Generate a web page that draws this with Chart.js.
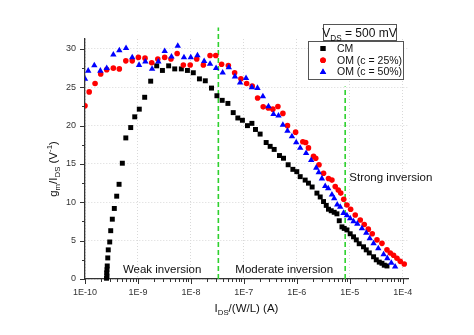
<!DOCTYPE html>
<html>
<head>
<meta charset="utf-8">
<script src="https://cdn.jsdelivr.net/npm/chart.js@4.4.1/dist/chart.umd.min.js"></script>
<style>
  html, body { margin: 0; background: #fff; }
  #wrap { width: 474px; height: 335px; }
</style>
</head>
<body>
<div id="wrap"><canvas id="chart"></canvas></div>
<script>
const FONT = '"Liberation Sans", Arial, sans-serif';

// --- Axis ticks ---
const xTicks = [1e-10, 1e-9, 1e-8, 1e-7, 1e-6, 1e-5, 1e-4];
const yTicks = [0, 5, 10, 15, 20, 25, 30];
const xMin = 1e-10, xMax = 1.26e-4;
const yMin = 0, yMax = 31.3;

// --- CM (squares) ---
const cmX = [2.55e-10, 2.6e-10, 2.57e-10, 2.6e-10, 2.63e-10, 2.69e-10, 2.75e-10, 2.93e-10, 3.06e-10, 3.28e-10,
  3.58e-10, 3.97e-10, 4.4e-10, 5.07e-10, 5.9e-10, 7.3e-10, 8.7e-10, 1.06e-9, 1.34e-9, 1.74e-9,
  2.26e-9, 2.9e-9, 3.8e-9, 4.95e-9, 6.6e-9, 8.6e-9, 1.11e-8, 1.45e-8, 1.87e-8, 2.45e-8,
  3.1e-8, 3.9e-8, 5.0e-8, 6.3e-8, 7.7e-8, 9.4e-8, 1.17e-7, 1.42e-7, 1.66e-7, 2.03e-7,
  2.64e-7, 3.14e-7, 3.74e-7, 4.71e-7, 5.61e-7, 6.87e-7, 8.43e-7, 1.0e-6, 1.16e-6, 1.44e-6,
  1.66e-6, 1.95e-6, 2.4e-6, 2.77e-6, 3.2e-6, 3.6e-6, 3.97e-6, 4.47e-6, 5.09e-6, 5.73e-6,
  6.34e-6, 7.13e-6, 7.87e-6, 8.85e-6, 1.02e-5, 1.18e-5, 1.33e-5, 1.51e-5, 1.82e-5, 2.05e-5,
  2.34e-5, 2.82e-5, 3.17e-5, 3.61e-5, 4.06e-5, 4.49e-5, 5.05e-5];
const cmY = [0.1, 0.4, 0.8, 1.2, 1.7, 2.75, 3.8, 4.83, 6.3, 7.8,
  9.2, 10.8, 12.35, 15.1, 18.4, 19.75, 21.15, 22.15, 23.7, 25.8,
  27.8, 27.2, 27.8, 27.4, 27.4, 27.2, 26.9, 26.1, 25.85, 24.9,
  23.9, 23.3, 22.9, 21.7, 21.0, 20.7, 20.0, 20.3, 19.5, 18.9,
  17.8, 17.3, 16.9, 16.1, 15.75, 14.9, 14.3, 14.0, 13.35, 12.9,
  12.5, 12.0, 11.2, 10.7, 10.1, 9.6, 9.1, 8.9, 8.7, 8.5,
  7.6, 6.8, 6.6, 6.4, 5.9, 5.5, 5.1, 4.6, 4.2, 3.8,
  3.4, 2.9, 2.5, 2.2, 2.05, 1.8, 1.7];

// --- OM (c = 25%) (circles) ---
const om25X = [1e-10, 1.2e-10, 1.55e-10, 1.98e-10, 2.57e-10, 3.43e-10, 4.45e-10, 5.9e-10, 7.8e-10, 1.02e-9,
  1.36e-9, 1.82e-9, 2.37e-9, 3.2e-9, 4.2e-9, 5.5e-9, 7.2e-9, 9.7e-9, 1.29e-8, 1.72e-8,
  2.3e-8, 2.95e-8, 3.8e-8, 5.1e-8, 6.7e-8, 8.8e-8, 1.13e-7, 1.44e-7, 1.82e-7, 2.32e-7,
  2.9e-7, 3.53e-7, 4.4e-7, 5.46e-7, 6.67e-7, 9.5e-7, 1.3e-6, 1.47e-6, 1.66e-6, 2.07e-6,
  2.28e-6, 2.63e-6, 3.2e-6, 3.97e-6, 4.61e-6, 5.32e-6, 6.07e-6, 6.76e-6, 7.7e-6, 8.85e-6,
  1.04e-5, 1.27e-5, 1.58e-5, 1.88e-5, 2.24e-5, 2.66e-5, 3.27e-5, 4.06e-5, 5.05e-5, 5.83e-5,
  6.73e-5, 7.8e-5, 9.0e-5, 1.07e-4];
const om25Y = [22.6, 24.4, 25.5, 26.75, 27.3, 27.5, 27.4, 28.45, 28.45, 28.9,
  28.8, 28.2, 28.7, 28.9, 28.7, 29.4, 27.9, 27.9, 28.7, 27.9,
  29.15, 29.15, 28.0, 27.85, 26.9, 26.1, 25.5, 25.15, 23.6, 22.45,
  22.3, 22.15, 22.5, 21.6, 20.0, 19.15, 17.9, 17.8, 17.1, 16.0,
  15.75, 14.9, 13.8, 13.1, 12.9, 12.05, 11.6, 11.2, 10.4, 9.66,
  9.1, 8.35, 7.7, 7.1, 6.5, 5.9, 5.1, 4.65, 3.8, 3.4,
  3.1, 2.7, 2.3, 1.95];

// --- OM (c = 50%) (triangles) ---
const om50X = [1e-10, 1.15e-10, 1.5e-10, 1.95e-10, 2.57e-10, 3.43e-10, 4.45e-10, 5.96e-10, 7.8e-10, 1.05e-9,
  1.38e-9, 1.85e-9, 2.43e-9, 3.2e-9, 4.3e-9, 5.65e-9, 7.4e-9, 9.95e-9, 1.33e-8, 1.78e-8,
  2.3e-8, 2.99e-8, 3.98e-8, 5.2e-8, 6.8e-8, 8.5e-8, 1.1e-7, 1.42e-7, 1.81e-7, 2.29e-7,
  2.92e-7, 3.63e-7, 4.51e-7, 5.46e-7, 6.67e-7, 8.1e-7, 9.75e-7, 1.16e-6, 1.5e-6, 1.87e-6,
  2.33e-6, 2.6e-6, 2.98e-6, 3.44e-6, 3.92e-6, 4.61e-6, 5.09e-6, 5.8e-6, 6.61e-6, 7.63e-6,
  8.85e-6, 1.02e-5, 1.18e-5, 1.39e-5, 1.7e-5, 2.05e-5, 2.39e-5, 2.82e-5, 3.46e-5, 4.36e-5,
  5.12e-5, 6.1e-5, 7.2e-5];
const om50Y = [26.1, 27.15, 27.85, 27.15, 27.5, 29.25, 29.8, 30.1, 28.9, 27.9,
  28.35, 27.4, 28.35, 29.7, 29.0, 30.4, 28.9, 28.9, 29.15, 28.4,
  28.05, 27.5, 26.9, 27.6, 26.4, 25.6, 26.2, 25.0, 24.9, 23.8,
  22.5, 21.5, 21.3, 20.1, 19.3, 18.6, 17.8, 17.1, 16.4, 15.5,
  14.5, 13.9, 13.1, 12.1, 11.8, 11.0, 10.5, 9.7, 9.4, 8.6,
  8.3, 7.9, 7.5, 7.2, 6.6, 6.0, 5.3, 4.65, 4.0, 3.2,
  2.7, 2.1, 1.6];

// --- Region boundaries (green dashed) ---
const boundX = [3.3e-8, 8.2e-6];
const boundTop = [32.8, 25.1];

// --- Region labels ---
const regionText = ['Weak inversion', 'Moderate inversion', 'Strong inversion'];
const regionX = [5.2e-10, 6.9e-8, 9.8e-6];
const regionY = [1.2, 1.2, 13.2];

const toPoints = (xs, ys) => xs.map((x, i) => ({ x: x, y: ys[i] }));

const series = [
  { label: 'CM', color: '#000000', style: 'rect', radius: 3.5, x: cmX, y: cmY, order: 3 },
  { label: 'OM (c = 25%)', color: '#ff0000', style: 'circle', radius: 2.8, x: om25X, y: om25Y, order: 2 },
  { label: 'OM (c = 50%)', color: '#0000ff', style: 'triangle', radius: 3.7, x: om50X, y: om50Y, order: 1 }
];

const datasets = series.map(s => ({
  label: s.label,
  data: toPoints(s.x, s.y),
  pointStyle: s.style,
  pointRadius: s.radius,
  backgroundColor: s.color,
  borderColor: s.color,
  borderWidth: 0,
  showLine: false,
  order: s.order,
  clip: { left: 0, right: false, top: false, bottom: false }
}));

boundX.forEach((bx, i) => {
  datasets.push({
    label: 'bound' + i,
    data: [{ x: bx, y: 0 }, { x: bx, y: boundTop[i] }],
    showLine: true,
    borderColor: '#2ed12e',
    borderWidth: 1.6,
    borderDash: [5, 3],
    pointRadius: 0,
    order: 10,
    clip: false
  });
});

// draw text with sub/superscripts: parts = [[text, mode]], mode 0 normal, 1 sub, 2 sup
function richWidth(ctx, parts, size) {
  let w = 0;
  parts.forEach(([t, m]) => {
    ctx.font = (m ? size * 0.68 : size) + 'px ' + FONT;
    w += ctx.measureText(t).width;
  });
  return w;
}
function drawRich(ctx, parts, x, y, size) {
  const w = richWidth(ctx, parts, size);
  let cx = x - w / 2;
  ctx.textBaseline = 'alphabetic';
  ctx.textAlign = 'left';
  parts.forEach(([t, m]) => {
    ctx.font = (m ? size * 0.68 : size) + 'px ' + FONT;
    const dy = m === 1 ? size * 0.3 : (m === 2 ? -size * 0.42 : 0);
    ctx.fillText(t, cx, y + dy);
    cx += ctx.measureText(t).width;
  });
}

const overlay = {
  id: 'overlay',
  afterDraw(chart) {
    const ctx = chart.ctx;
    const xs = chart.scales.x, ys = chart.scales.y;
    const area = chart.chartArea;
    ctx.save();

    // tick marks (major + minor), outward
    ctx.strokeStyle = '#333';
    ctx.lineWidth = 1;
    ctx.beginPath();
    xTicks.forEach(d => {
      for (let k = 1; k <= 9; k++) {
        const v = d * k;
        if (v > xMax * 1.0001) break;
        const px = Math.round(xs.getPixelForValue(v)) + 0.5;
        ctx.moveTo(px, area.bottom);
        ctx.lineTo(px, area.bottom + (k === 1 ? 5 : 3));
      }
    });
    for (let v = yMin; v <= yMax; v += 2.5) {
      const py = Math.round(ys.getPixelForValue(v)) + 0.5;
      ctx.moveTo(area.left, py);
      ctx.lineTo(area.left - (v % 5 === 0 ? 5 : 3), py);
    }
    ctx.stroke();

    // region labels
    ctx.fillStyle = '#111';
    ctx.font = '11.5px ' + FONT;
    ctx.textAlign = 'left';
    ctx.textBaseline = 'middle';
    regionText.forEach((t, i) => {
      ctx.fillText(t, xs.getPixelForValue(regionX[i]), ys.getPixelForValue(regionY[i]));
    });

    // axis titles
    drawRich(ctx, [['I', 0], ['DS', 1], ['/(W/L) (A)', 0]], (area.left + area.right) / 2, area.bottom + 33, 11.5);
    ctx.save();
    ctx.translate(area.left - 28, (area.top + area.bottom) / 2 + 10);
    ctx.rotate(-Math.PI / 2);
    drawRich(ctx, [['g', 0], ['m', 1], ['/I', 0], ['DS', 1], [' (V', 0], ['-1', 2], [')', 0]], 0, 0, 11.5);
    ctx.restore();

    // V_DS box
    const bx1 = area.right - 85, bx2 = area.right - 12;
    ctx.fillStyle = '#fff';
    ctx.strokeStyle = '#555';
    ctx.lineWidth = 1;
    ctx.fillRect(bx1, 24, bx2 - bx1, 16.5);
    ctx.strokeRect(bx1 + 0.5, 24.5, bx2 - bx1, 16);
    ctx.fillStyle = '#111';
    drawRich(ctx, [['V', 0], ['DS', 1], [' = 500 mV', 0]], (bx1 + bx2) / 2, 37, 12);

    // legend box
    const lx1 = area.right - 100, lx2 = area.right - 5, ly1 = 41, ly2 = 79;
    ctx.fillStyle = '#fff';
    ctx.fillRect(lx1, ly1, lx2 - lx1, ly2 - ly1);
    ctx.strokeStyle = '#555';
    ctx.strokeRect(lx1 + 0.5, ly1 + 0.5, lx2 - lx1, ly2 - ly1);
    series.forEach((s, i) => {
      const cy = ly1 + 7.5 + i * 11.8;
      ctx.fillStyle = s.color;
      Chart.helpers.drawPoint(ctx, { pointStyle: s.style, radius: s.radius, rotation: 0, borderWidth: 0 }, lx1 + 15, cy);
      ctx.fill();
      ctx.fillStyle = '#111';
      ctx.font = '10.5px ' + FONT;
      ctx.textAlign = 'left';
      ctx.textBaseline = 'middle';
      ctx.fillText(s.label, lx1 + 29, cy + 0.5);
    });

    ctx.restore();
  }
};

new Chart(document.getElementById('chart'), {
  type: 'scatter',
  data: { datasets: datasets },
  options: {
    responsive: true,
    maintainAspectRatio: false,
    animation: false,
    layout: { padding: { top: 39, right: 66, left: 0, bottom: 0 } },
    plugins: { legend: { display: false }, tooltip: { enabled: false } },
    scales: {
      x: {
        type: 'logarithmic',
        min: xMin,
        max: xMax,
        afterBuildTicks: s => { s.ticks = xTicks.map(v => ({ value: v })); },
        afterFit: s => { s.height = 56; },
        ticks: {
          autoSkip: false,
          maxRotation: 0,
          padding: 8,
          color: '#333',
          font: { family: FONT, size: 9 },
          callback: v => '1E' + Math.round(Math.log10(v))
        },
        grid: { color: '#d9d9d9', lineWidth: 1, drawTicks: false },
        border: { color: '#333', width: 1.3, dash: [1, 2] }
      },
      y: {
        min: yMin,
        max: yMax,
        afterBuildTicks: s => { s.ticks = yTicks.map(v => ({ value: v })); },
        afterFit: s => { s.width = 85; },
        ticks: {
          padding: 9,
          color: '#333',
          font: { family: FONT, size: 9 }
        },
        grid: { color: '#d9d9d9', lineWidth: 1, drawTicks: false },
        border: { color: '#333', width: 1.3, dash: [1, 2] }
      }
    }
  },
  plugins: [overlay]
});
</script>
</body>
</html>
